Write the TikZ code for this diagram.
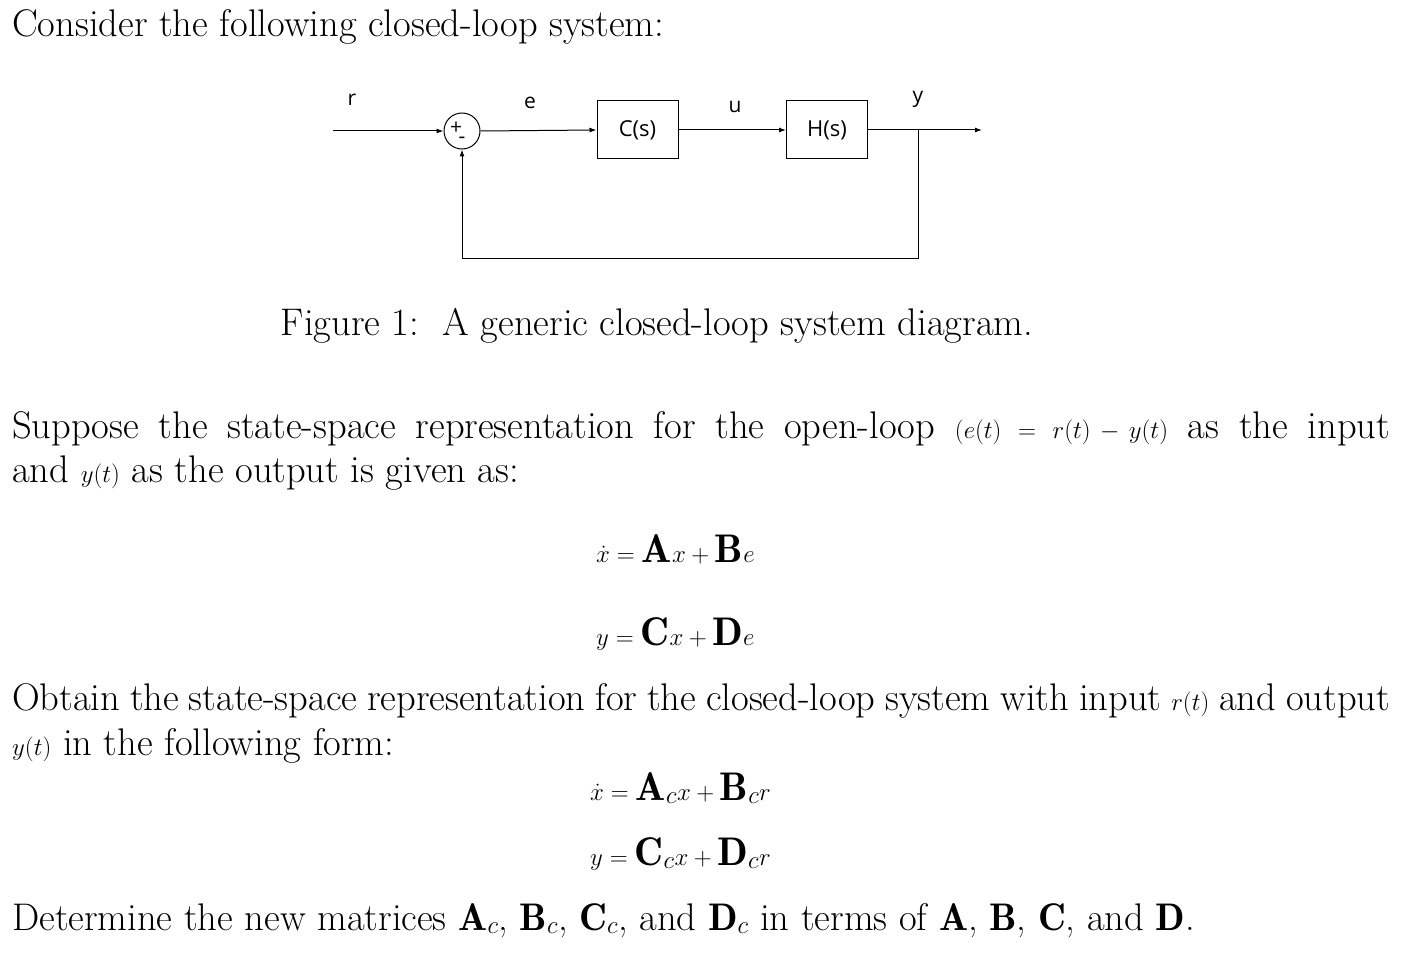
\documentclass[tikz,border=0pt]{standalone}
\usepackage{amsmath}
\usepackage{fontspec}
\newfontfamily\diagfont{Open Sans}
\usetikzlibrary{arrows.meta}
\begin{document}
\begin{tikzpicture}[x=1pt,y=-1pt,
  txt/.style={anchor=base west,inner sep=0pt,font=\fontsize{38.5}{46}\selectfont},
  eq/.style={anchor=base west,inner sep=0pt,font=\fontsize{40}{46}\selectfont},
  blk/.style={draw,line width=1pt,minimum width=81pt,minimum height=58pt,inner sep=0pt,font=\diagfont\fontsize{22}{26}\selectfont},
  lbl/.style={inner sep=0pt,font=\diagfont\fontsize{21}{24}\selectfont},
  sig/.style={line width=1pt,-{Latex[length=7pt,width=5pt]}},
  wire/.style={line width=1pt}]
\useasboundingbox (0,0) rectangle (1424,960);
\node[txt] (t1) at (12,37) {Consider the following closed-loop system:};
% diagram
\coordinate (in) at (333,131);
\node[draw,circle,line width=1pt,minimum size=36pt,inner sep=0pt] (sum) at (462,131) {};
\node[lbl] (plus) at (456,128) {+};
\node[lbl] (minus) at (462,140) {-};
\node[blk] (C) at (637.5,130) {C(s)};
\node[blk] (H) at (827,130) {H(s)};
\coordinate (br) at (918,130);
\coordinate (out) at (982,130);
\coordinate (bot) at (918,258);
\coordinate (botl) at (462,258);
\draw[sig] (in) -- (sum.west);
\draw[sig] (sum.east) -- (C.west);
\draw[sig] (C.east) -- (H.west);
\draw[sig] (H.east) -- (out);
\draw[wire] (br) -- (bot) -- (botl);
\draw[sig] (botl) -- (sum.south);
\node[lbl] (lr) at (352,100) {r};
\node[lbl] (le) at (530,103) {e};
\node[lbl] (lu) at (735,107) {u};
\node[lbl] (ly) at (918,99) {y};
\node[txt,anchor=base] (cap) at (657,335) {Figure 1:\ \ A generic closed-loop system diagram.};
\node[txt] (p1) at (12,438) {\makebox[1378pt][s]{Suppose the state-space representation for the open-loop $(e(t) = r(t) - y(t)$ as the input}};
\node[txt] (p2) at (12,482) {and $y(t)$ as the output is given as:};
\node[eq] (e1) at (596,562) {$\dot{x} = \mathbf{A}x + \mathbf{B}e$};
\node[eq] (e2) at (596,645) {$y = \mathbf{C}x + \mathbf{D}e$};
\node[txt] (p3) at (12,710) {\makebox[1378pt][s]{Obtain the state-space representation for the closed-loop system with input $r(t)$ and output}};
\node[txt] (p4) at (12,755) {$y(t)$ in the following form:};
\node[eq] (e3) at (590,800) {$\dot{x} = \mathbf{A}_c x + \mathbf{B}_c r$};
\node[eq] (e4) at (590,865) {$y = \mathbf{C}_c x + \mathbf{D}_c r$};
\node[txt] (p5) at (12,930) {Determine the new matrices $\mathbf{A}_c$, $\mathbf{B}_c$, $\mathbf{C}_c$, and $\mathbf{D}_c$ in terms of $\mathbf{A}$, $\mathbf{B}$, $\mathbf{C}$, and $\mathbf{D}$.};
\end{tikzpicture}
\end{document}
